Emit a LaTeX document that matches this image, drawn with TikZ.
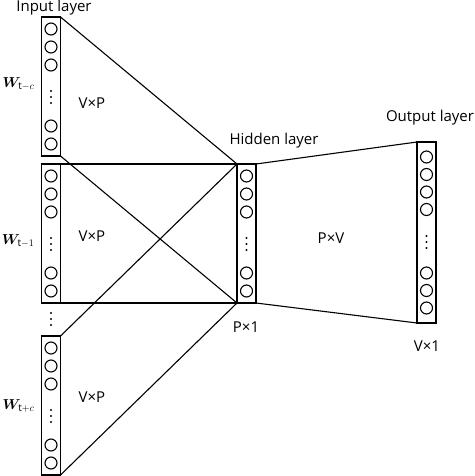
\documentclass[tikz,border=0pt]{standalone}
\usepackage{amsmath,bm}
\usepackage{fontspec}
\setmainfont{Open Sans}
\usetikzlibrary{positioning}
\begin{document}
\begin{tikzpicture}[x=1pt, y=-1pt, line width=1.1pt,
  col/.style={draw, minimum width=19pt, minimum height=139pt,
          inner sep=0pt, outer sep=0pt},
  unit/.style={circle, draw, minimum size=12pt, inner sep=0pt},
  lbl/.style={font=\fontsize{15}{17}\selectfont, inner sep=0pt},
  wlbl/.style={font=\fontsize{14.5}{17}\selectfont, inner sep=0pt, anchor=east}]
    \useasboundingbox (0,0) rectangle (474,476);
    % columns
    \node[col] (in1) at (51,86.5) {};
    \node[col] (in2) at (51,233.5) {};
    \node[col] (in3) at (51,405.5) {};
    \node[col] (hid) at (246.5,233.5) {};
    \node[col, minimum height=181pt] (out) at (426.5,232.5) {};
    \foreach \c in {in1,in2,in3,hid}{
        \foreach \k in {12,30,48,109,127}
            \node[unit] at ([yshift=-\k]\c.north) {};
        \foreach \d in {74,80,86}
            \fill ([yshift=-\d]\c.north) circle (1.1pt);
    };
    \foreach \k in {15,32.5,50,67.5,131,148.5,166}
        \node[unit] at ([yshift=-\k]out.north) {};
    \foreach \d in {94,100,106}
        \fill ([yshift=-\d]out.north) circle (1.1pt);
    \foreach \d in {313,319,325}
        \fill (51,\d) circle (1.1pt);
    % connections
    \foreach \c in {in1,in2,in3}{
        \draw (\c.north east) -- (hid.north west);
        \draw (\c.south east) -- (hid.south west);
    };
    \draw (hid.north east) -- (out.north west);
    \draw (hid.south east) -- (out.south west);
    % labels
    \node[lbl] (inlbl) at (54,7.5) {Input layer};
    \node[lbl] (hidlbl) at (274,141) {Hidden layer};
    \node[lbl] (outlbl) at (430,118) {Output layer};
    \node[lbl] (hiddim) at (246,327) {P×1};
    \node[lbl] (outdim) at (427,346) {V×1};
    \node[lbl] (wout) at (331,238) {P×V};
    \foreach \c/\y in {in1/103,in2/236,in3/397}
        \node[lbl] (w\c) at (92,\y) {V×P};
    \node[wlbl] (x1) at (35,84) {$\boldsymbol{W}_{\mathrm{t}-c}$};
    \node[wlbl] (x2) at (35,241) {$\boldsymbol{W}_{\mathrm{t}-1}$};
    \node[wlbl] (x3) at (35,406) {$\boldsymbol{W}_{\mathrm{t}+c}$};
\end{tikzpicture}
\end{document}
